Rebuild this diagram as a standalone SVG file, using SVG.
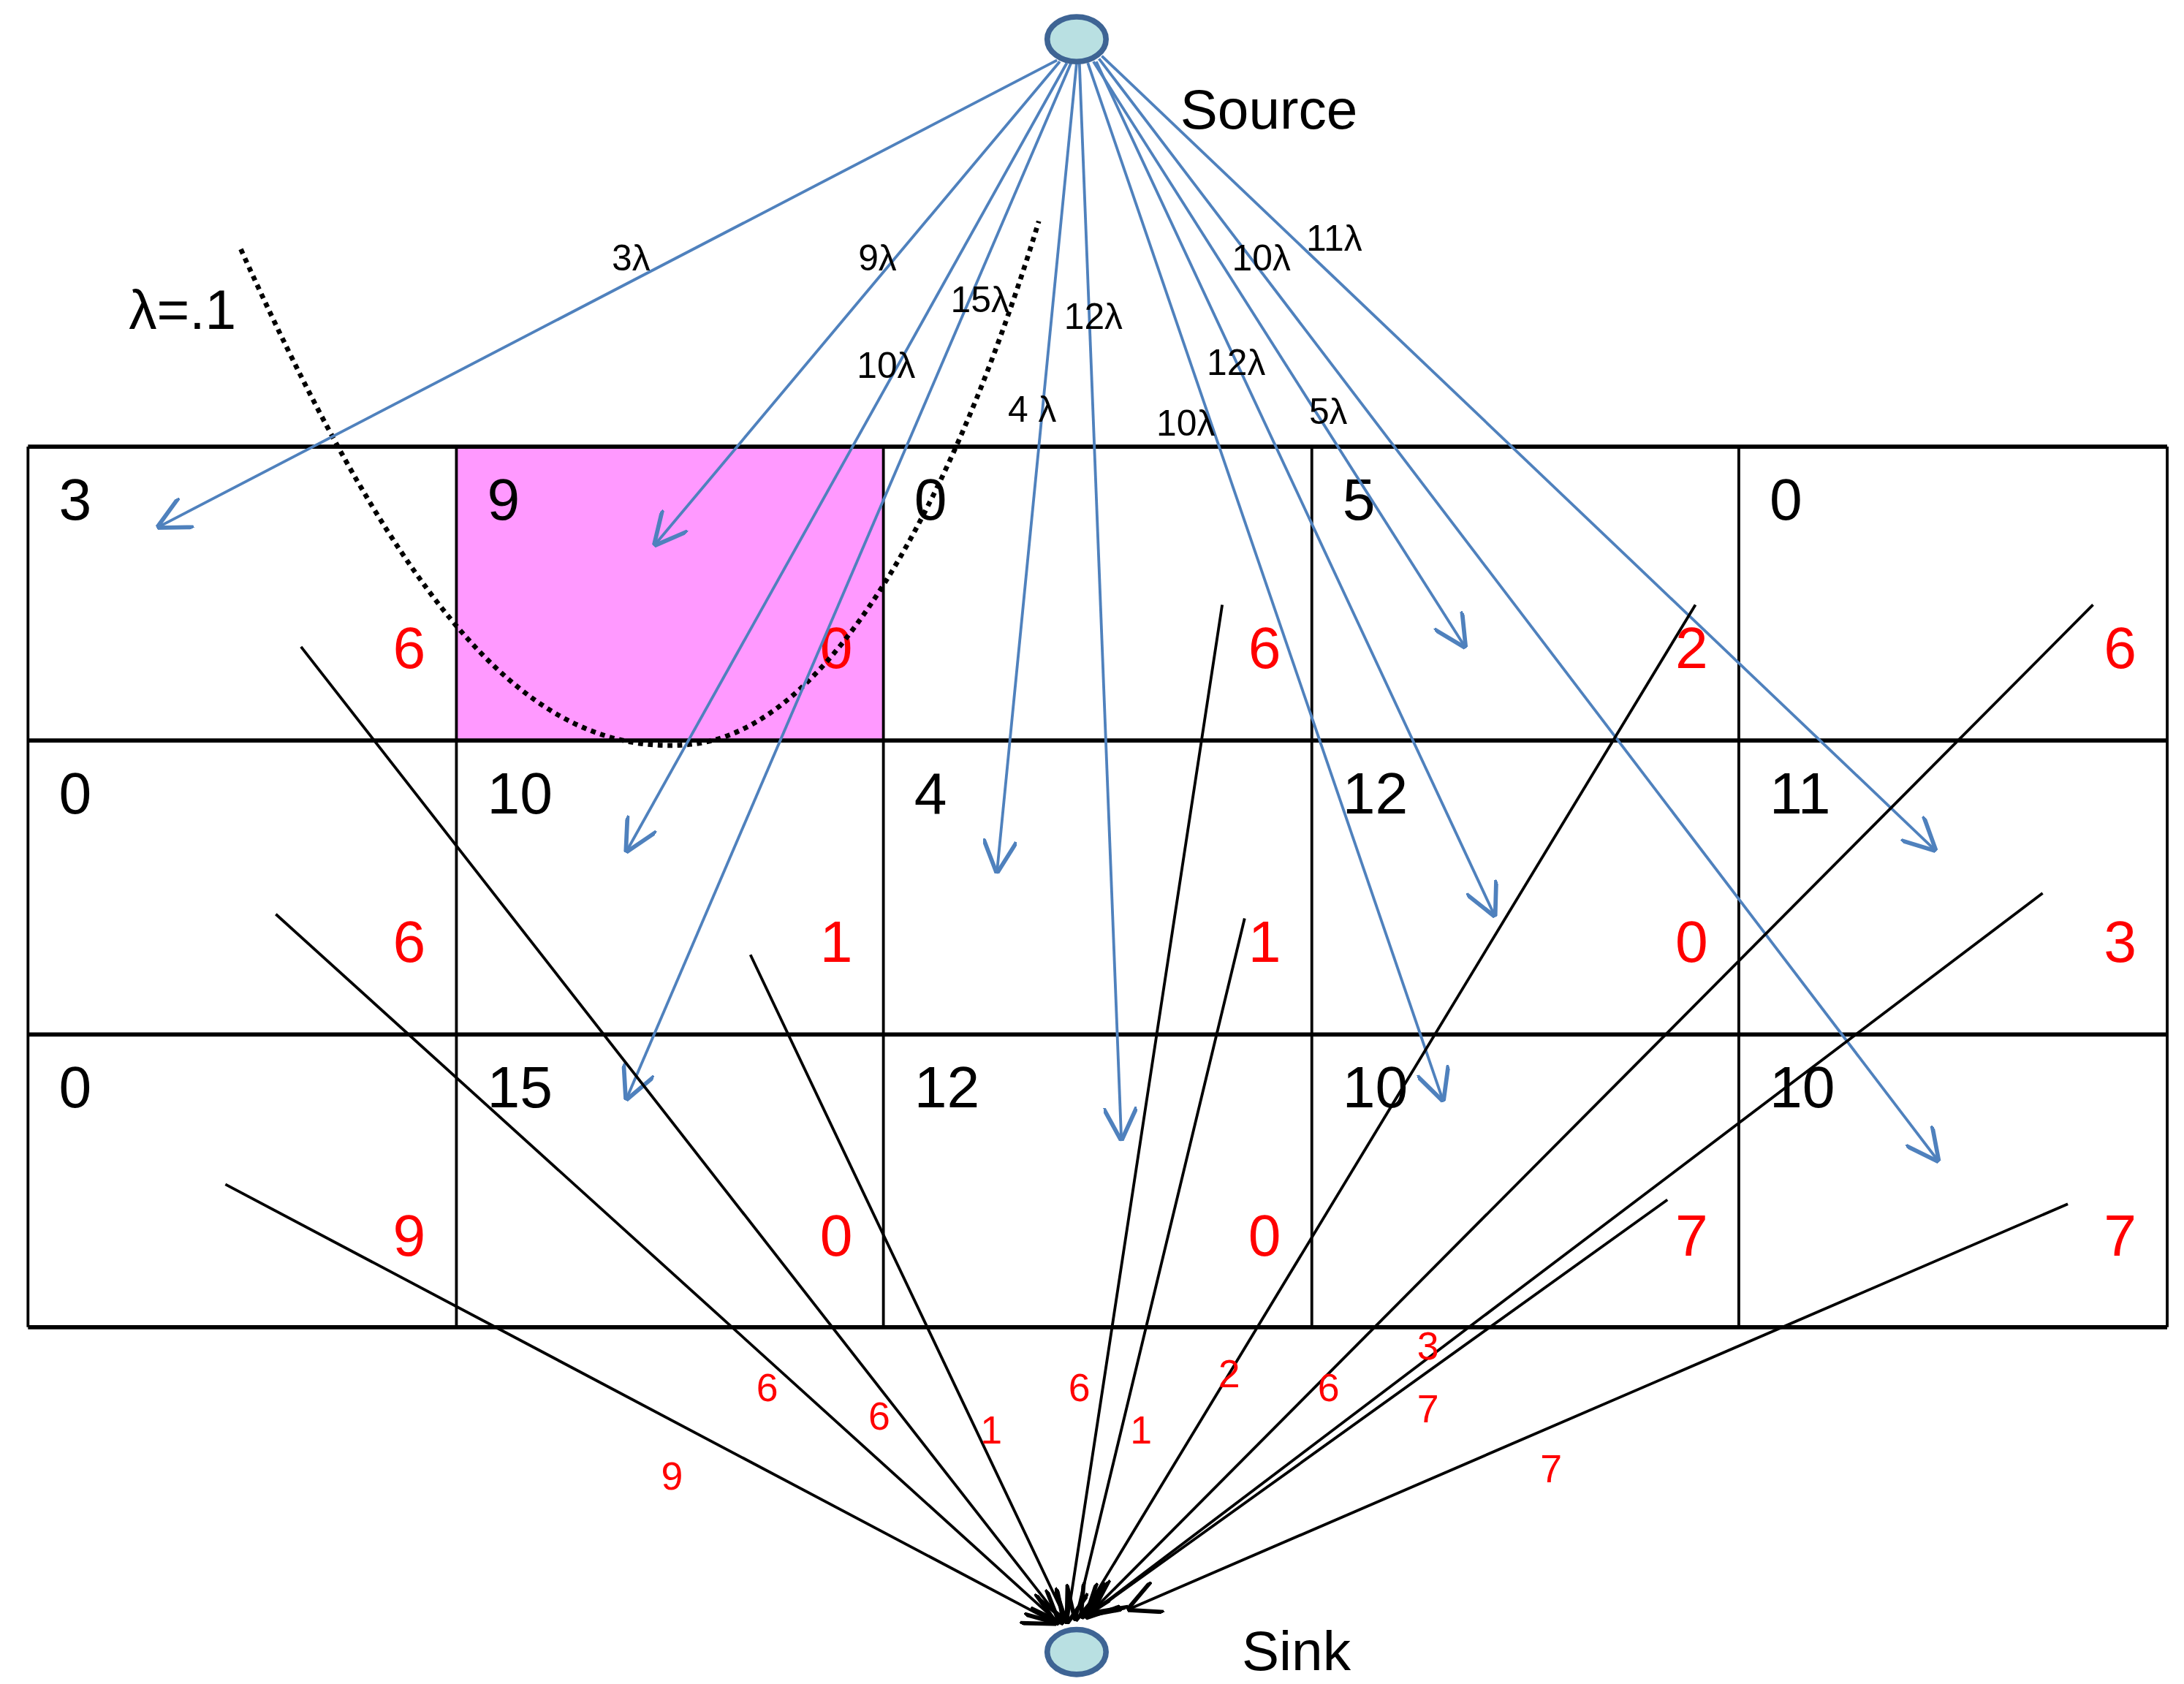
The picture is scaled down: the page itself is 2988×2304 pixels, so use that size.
<svg xmlns="http://www.w3.org/2000/svg" width="2988" height="2304" viewBox="0 0 2988 2304">
<defs>
<marker id="ab" markerUnits="userSpaceOnUse" markerWidth="24" markerHeight="24" refX="12" refY="6" viewBox="0 0 12 12" orient="auto"><path d="M0,0 L12,6 L0,12" fill="none" stroke="#4f81bd" stroke-width="1.5"/></marker>
<marker id="ak" markerUnits="userSpaceOnUse" markerWidth="24" markerHeight="24" refX="12" refY="6" viewBox="0 0 12 12" orient="auto"><path d="M0,0 L12,6 L0,12" fill="none" stroke="#000" stroke-width="1.5"/></marker>
</defs>
<style>
text{font-family:"Liberation Sans",Arial,sans-serif}
.n{font-size:42px;fill:#000}
.r{font-size:42px;fill:#f00;text-anchor:end}
.l{font-size:26px;fill:#000}
.f{font-size:28px;fill:#f00;text-anchor:middle}
.b{stroke:#4f81bd;stroke-width:2;fill:none;marker-end:url(#ab)}
.k{stroke:#000;stroke-width:2;fill:none;marker-end:url(#ak)}
.g{stroke:#000;stroke-width:2;fill:none}
.node{fill:#b9e0e2;stroke:#3e6494;stroke-width:4}
</style>
<rect width="2988" height="2304" fill="#fff"/>
<g transform="scale(1.9154)">
<g id="grid">
<rect x="326" y="319" width="305" height="210" fill="#ff99ff"/>
<path class="g" d="M326,319V948M631,319V948M937,319V948M1242,319V948M20,319V948M1548,319V948"/>
<path class="g" stroke-width="3" d="M20,319H1548M20,529H1548M20,739H1548M20,948H1548" style="stroke-width:3"/>
<g class="cells">
<text class="n" x="42" y="371">3</text><text class="r" x="304" y="477">6</text>
<text class="n" x="348" y="371">9</text><text class="r" x="609" y="477">0</text>
<text class="n" x="653" y="371">0</text><text class="r" x="915" y="477">6</text>
<text class="n" x="959" y="371">5</text><text class="r" x="1220" y="477">2</text>
<text class="n" x="1264" y="371">0</text><text class="r" x="1526" y="477">6</text>
<text class="n" x="42" y="581">0</text><text class="r" x="304" y="687">6</text>
<text class="n" x="348" y="581">10</text><text class="r" x="609" y="687">1</text>
<text class="n" x="653" y="581">4</text><text class="r" x="915" y="687">1</text>
<text class="n" x="959" y="581">12</text><text class="r" x="1220" y="687">0</text>
<text class="n" x="1264" y="581">11</text><text class="r" x="1526" y="687">3</text>
<text class="n" x="42" y="791">0</text><text class="r" x="304" y="897">9</text>
<text class="n" x="348" y="791">15</text><text class="r" x="609" y="897">0</text>
<text class="n" x="653" y="791">12</text><text class="r" x="915" y="897">0</text>
<text class="n" x="959" y="791">10</text><text class="r" x="1220" y="897">7</text>
<text class="n" x="1264" y="791">10</text><text class="r" x="1526" y="897">7</text>
</g>
</g>
<path d="M172,178 C290,440 380,540 490,532 C600,525 690,330 742,158" fill="none" stroke="#000" stroke-width="3.5" stroke-dasharray="3.5 3.5"/>
<text x="92" y="235" style="font-size:40px">λ=.1</text>
<g id="connectors">
<path class="b" d="M755,43L112,377"/>
<path class="b" d="M757,44L467,390"/>
<path class="b" d="M762,45L447,609"/>
<path class="b" d="M765,45L447,786"/>
<path class="b" d="M769,45L712,624"/>
<path class="b" d="M771,45L801,815"/>
<path class="b" d="M781,44L1047,463"/>
<path class="b" d="M783,44L1068,655"/>
<path class="b" d="M777,45L1031,787"/>
<path class="b" d="M787,40L1383,608"/>
<path class="b" d="M785,42L1385,830"/>
<path class="k" d="M215,462L760,1160"/>
<path class="k" d="M197,653L757,1160"/>
<path class="k" d="M161,846L755,1160"/>
<path class="k" d="M536,682L762,1158"/>
<path class="k" d="M873,432L762,1160"/>
<path class="k" d="M889,656L768,1158"/>
<path class="k" d="M1211,432L772,1156"/>
<path class="k" d="M1495,432L775,1156"/>
<path class="k" d="M1459,638L777,1154"/>
<path class="k" d="M1191,857L780,1152"/>
<path class="k" d="M1477,860L805,1150"/>
</g>
<g id="labels">
<text class="l" x="437" y="193">3λ</text>
<text class="l" x="613" y="193">9λ</text>
<text class="l" x="612" y="270">10λ</text>
<text class="l" x="679" y="223">15λ</text>
<text class="l" x="720" y="301">4 λ</text>
<text class="l" x="760" y="235">12λ</text>
<text class="l" x="935" y="303">5λ</text>
<text class="l" x="862" y="268">12λ</text>
<text class="l" x="826" y="311">10λ</text>
<text class="l" x="880" y="193">10λ</text>
<text class="l" x="933" y="179">11λ</text>
<text class="f" x="480" y="1064">9</text>
<text class="f" x="548" y="1001">6</text>
<text class="f" x="628" y="1021">6</text>
<text class="f" x="708" y="1031">1</text>
<text class="f" x="771" y="1001">6</text>
<text class="f" x="815" y="1031">1</text>
<text class="f" x="878" y="991">2</text>
<text class="f" x="949" y="1001">6</text>
<text class="f" x="1020" y="971">3</text>
<text class="f" x="1020" y="1016">7</text>
<text class="f" x="1108" y="1059">7</text>
</g>
<g id="source"><ellipse class="node" cx="769" cy="28" rx="21" ry="16"/><text x="843" y="92" style="font-size:40px">Source</text></g>
<g id="sink"><ellipse class="node" cx="769" cy="1180" rx="21" ry="16"/><text x="887" y="1193" style="font-size:40px">Sink</text></g>
</g>
</svg>
